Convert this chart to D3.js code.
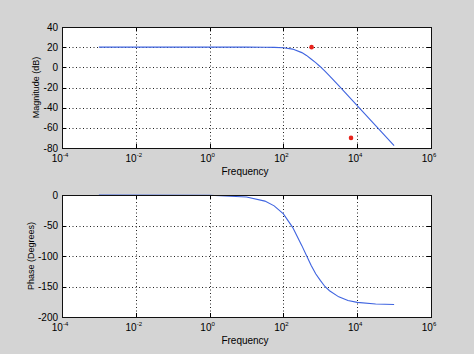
<!DOCTYPE html>
<html>
<head>
<meta charset="utf-8">
<script src="https://cdnjs.cloudflare.com/ajax/libs/d3/7.8.5/d3.min.js"></script>
<style>
body { margin: 0; background: #d4d4d4; }
text { font-family: "Liberation Sans", Arial, sans-serif; fill: #000; }
</style>
</head>
<body>
<svg id="fig" width="474" height="354"></svg>
<script>
// bode data
var freq = [0.001, 1, 10, 31.6, 56.2, 100, 178, 316, 422, 562, 750, 1000, 1334, 1778, 3162, 5623, 10000, 31623, 100000];
var magnitude = [20, 20, 20, 19.9, 19.8, 19.4, 18.1, 14.6, 11.8, 8.3, 4.6, 0.6, -3.8, -8.4, -18.1, -28, -38, -57.8, -77.7];
var phase = [0, -0.3, -3.2, -10, -17.8, -31, -53, -83, -99, -115, -129, -140, -150, -157, -167, -173, -176, -178.7, -179.6];

// the two red markers on the magnitude plot
var markerFreq = [580, 6800];
var markerMag = [20, -70];

var xTicks = [1e-4, 1e-2, 1, 1e2, 1e4, 1e6];
var xTickExp = ['-4', '-2', '0', '2', '4', '6'];
var magTicks = [-80, -60, -40, -20, 0, 20, 40];
var phaseTicks = [-200, -150, -100, -50, 0];

var svg = d3.select('#fig');
var x = d3.scaleLog().domain([1e-4, 1e6]).range([62, 431]);

function panel(top, bottom, domain, ticks, ylabel, labelX, values) {
	var y = d3.scaleLinear().domain(domain).range([bottom, top]);
	var g = svg.append('g');

	g.append('rect')
		.attr('x', x.range()[0]).attr('y', top)
		.attr('width', x.range()[1] - x.range()[0]).attr('height', bottom - top)
		.attr('fill', '#fff');

	// dotted grid
	g.selectAll('.gx').data(xTicks.slice(1, -1)).enter().append('line')
		.attr('x1', function (d) { return Math.round(x(d)) + 0.5; })
		.attr('x2', function (d) { return Math.round(x(d)) + 0.5; })
		.attr('y1', top).attr('y2', bottom)
		.attr('stroke', '#222').attr('stroke-dasharray', '1,2.5');
	g.selectAll('.gy').data(ticks.slice(1, -1)).enter().append('line')
		.attr('x1', x.range()[0]).attr('x2', x.range()[1])
		.attr('y1', function (d) { return Math.round(y(d)) + 0.5; })
		.attr('y2', function (d) { return Math.round(y(d)) + 0.5; })
		.attr('stroke', '#222').attr('stroke-dasharray', '1,2.5');

	// tick marks inside the box on all four sides
	g.selectAll('.tx').data(xTicks).enter().append('path')
		.attr('d', function (d) {
			var px = Math.round(x(d)) + 0.5;
			return 'M' + px + ',' + bottom + 'v-4M' + px + ',' + top + 'v4';
		})
		.attr('stroke', '#000');
	g.selectAll('.ty').data(ticks).enter().append('path')
		.attr('d', function (d) {
			var py = Math.round(y(d)) + 0.5;
			return 'M' + x.range()[0] + ',' + py + 'h4M' + x.range()[1] + ',' + py + 'h-4';
		})
		.attr('stroke', '#000');

	// data line
	var line = d3.line()
		.x(function (d, i) { return x(freq[i]); })
		.y(function (d) { return y(d); });
	g.append('path').datum(values)
		.attr('d', line)
		.attr('fill', 'none')
		.attr('stroke', '#3f64e0')
		.attr('stroke-width', 1.1);

	g.append('rect')
		.attr('x', x.range()[0] + 0.5).attr('y', top + 0.5)
		.attr('width', x.range()[1] - x.range()[0]).attr('height', bottom - top)
		.attr('fill', 'none').attr('stroke', '#111');

	// y tick labels
	g.selectAll('.yl').data(ticks).enter().append('text')
		.attr('x', 58).attr('y', y).attr('dy', '0.35em')
		.attr('text-anchor', 'end').attr('font-size', 10)
		.text(function (d) { return d; });

	// x tick labels 10^n
	var xl = g.selectAll('.xl').data(xTicks).enter().append('text')
		.attr('x', function (d) { return x(d) - 2; })
		.attr('y', bottom + 14)
		.attr('text-anchor', 'middle').attr('font-size', 10);
	xl.append('tspan').text('10');
	xl.append('tspan').attr('dy', -5).attr('font-size', 6)
		.text(function (d, i) { return xTickExp[i]; });

	g.append('text')
		.attr('x', 245).attr('y', bottom + 27)
		.attr('text-anchor', 'middle').attr('font-size', 10)
		.text('Frequency');

	g.append('text')
		.attr('transform', 'translate(' + labelX + ',' + ((top + bottom) / 2) + ') rotate(-90)')
		.attr('text-anchor', 'middle').attr('font-size', 9)
		.text(ylabel);

	return { g: g, y: y };
}

var magPanel = panel(27, 148, [-80, 40], magTicks, 'Magnitude (dB)', 39, magnitude);
panel(195, 317, [-200, 0], phaseTicks, 'Phase (Degrees)', 34, phase);

magPanel.g.selectAll('.dot').data(markerFreq).enter().append('circle')
	.attr('cx', function (d) { return x(d); })
	.attr('cy', function (d, i) { return magPanel.y(markerMag[i]); })
	.attr('r', 2.3)
	.attr('fill', '#e8231c');
</script>
</body>
</html>
